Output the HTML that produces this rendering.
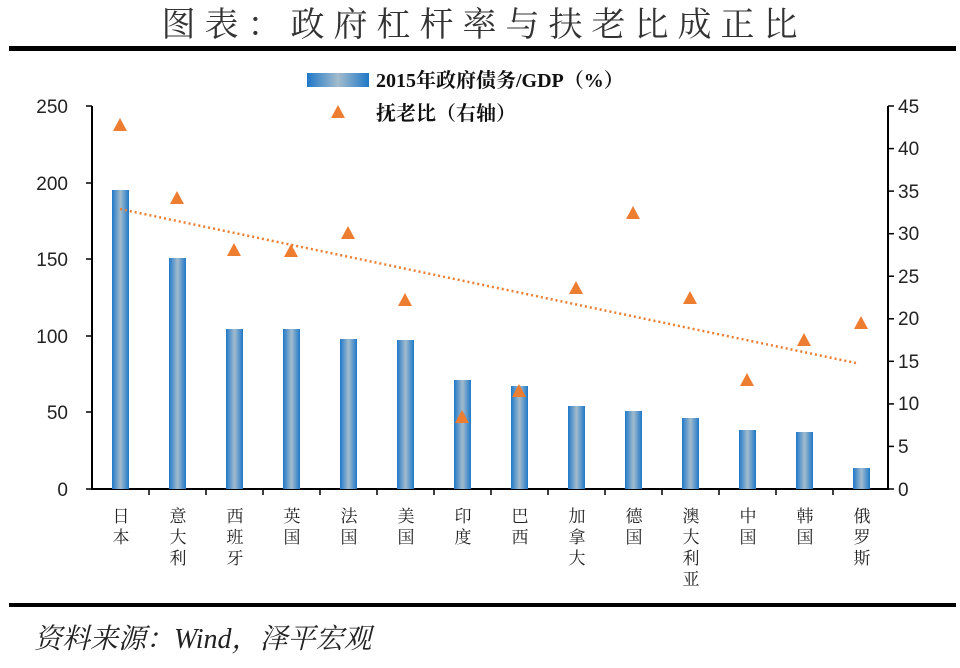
<!DOCTYPE html>
<html><head><meta charset="utf-8"><style>
body{margin:0;background:#fff;width:960px;height:663px;overflow:hidden}
</style></head><body>
<svg width="960" height="663" viewBox="0 0 960 663" xmlns="http://www.w3.org/2000/svg" font-family="'Liberation Serif','Noto Serif CJK SC',serif">
<defs>
<linearGradient id="g" x1="0" x2="1" y1="0" y2="0">
<stop offset="0" stop-color="#1f78c8"/><stop offset="0.5" stop-color="#a3bccd"/><stop offset="1" stop-color="#1f78c8"/>
</linearGradient>
</defs>
<text x="484" y="36" font-size="34" text-anchor="middle" fill="#333" letter-spacing="9">图表：政府杠杆率与扶老比成正比</text>
<rect x="9" y="46" width="947" height="5" fill="#000"/>
<rect x="9" y="603" width="947" height="4" fill="#000"/>
<text x="34" y="648" font-size="28" font-style="italic" fill="#222">资料来源：Wind，泽平宏观</text>
<!-- legend -->
<rect x="307" y="73" width="62" height="14" fill="url(#g)"/>
<text x="376" y="87" font-size="20" font-weight="bold" fill="#111">2015年政府债务/GDP（%）</text>
<polygon points="338,105 331,118 345,118" fill="#ed7d31"/>
<text x="376" y="120" font-size="20" font-weight="bold" fill="#111">抚老比（右轴）</text>
<!-- axes -->
<g stroke="#000" stroke-width="2">
<line x1="92" y1="106" x2="92" y2="490"/>
<line x1="91" y1="489" x2="888" y2="489"/>
<line x1="888" y1="106" x2="888" y2="490"/>
</g>
<g stroke="#000" stroke-width="1.5">
<line x1="86" y1="106" x2="92" y2="106"/><line x1="86" y1="183" x2="92" y2="183"/><line x1="86" y1="259" x2="92" y2="259"/><line x1="86" y1="336" x2="92" y2="336"/><line x1="86" y1="412" x2="92" y2="412"/><line x1="86" y1="489" x2="92" y2="489"/>
<line x1="888" y1="106" x2="894" y2="106"/><line x1="888" y1="148.6" x2="894" y2="148.6"/><line x1="888" y1="191.1" x2="894" y2="191.1"/><line x1="888" y1="233.7" x2="894" y2="233.7"/><line x1="888" y1="276.2" x2="894" y2="276.2"/><line x1="888" y1="318.8" x2="894" y2="318.8"/><line x1="888" y1="361.3" x2="894" y2="361.3"/><line x1="888" y1="403.9" x2="894" y2="403.9"/><line x1="888" y1="446.4" x2="894" y2="446.4"/><line x1="888" y1="489" x2="894" y2="489"/>
</g>
<g stroke="#000" stroke-width="1.5">
<line x1="149" y1="489" x2="149" y2="495"/><line x1="206" y1="489" x2="206" y2="495"/><line x1="263" y1="489" x2="263" y2="495"/><line x1="320" y1="489" x2="320" y2="495"/><line x1="377" y1="489" x2="377" y2="495"/><line x1="434" y1="489" x2="434" y2="495"/><line x1="491" y1="489" x2="491" y2="495"/><line x1="548" y1="489" x2="548" y2="495"/><line x1="605" y1="489" x2="605" y2="495"/><line x1="662" y1="489" x2="662" y2="495"/><line x1="719" y1="489" x2="719" y2="495"/><line x1="776" y1="489" x2="776" y2="495"/><line x1="833" y1="489" x2="833" y2="495"/>
</g>
<g font-family="'Liberation Sans',sans-serif" font-size="19" fill="#222" text-anchor="end">
<text x="68" y="113">250</text><text x="68" y="190">200</text><text x="68" y="266">150</text><text x="68" y="343">100</text><text x="68" y="419">50</text><text x="68" y="496">0</text>
</g>
<g font-family="'Liberation Sans',sans-serif" font-size="19" fill="#222" text-anchor="start">
<text x="898" y="113">45</text><text x="898" y="155">40</text><text x="898" y="198">35</text><text x="898" y="240">30</text><text x="898" y="283">25</text><text x="898" y="325">20</text><text x="898" y="368">15</text><text x="898" y="410">10</text><text x="898" y="453">5</text><text x="898" y="496">0</text>
</g>
<!-- bars -->
<g fill="url(#g)">
<rect x="112" y="190" width="17" height="299"/>
<rect x="169" y="258" width="17" height="231"/>
<rect x="226" y="329" width="17" height="160"/>
<rect x="283" y="329" width="17" height="160"/>
<rect x="340" y="339" width="17" height="150"/>
<rect x="397" y="340" width="17" height="149"/>
<rect x="454" y="380" width="17" height="109"/>
<rect x="511" y="386" width="17" height="103"/>
<rect x="568" y="406" width="17" height="83"/>
<rect x="625" y="411" width="17" height="78"/>
<rect x="682" y="418" width="17" height="71"/>
<rect x="739" y="430" width="17" height="59"/>
<rect x="796" y="432" width="17" height="57"/>
<rect x="853" y="468" width="17" height="21"/>
</g>
<line x1="120" y1="209" x2="856" y2="363" stroke="#ed7d31" stroke-width="2.5" stroke-dasharray="2,3"/>
<g fill="#ed7d31">
<polygon points="120,118 113,131 127,131"/>
<polygon points="177,191 170,204 184,204"/>
<polygon points="234,243 227,256 241,256"/>
<polygon points="291,244 284,257 298,257"/>
<polygon points="348,226 341,239 355,239"/>
<polygon points="405,293 398,306 412,306"/>
<polygon points="462,410 455,423 469,423"/>
<polygon points="519,384 512,397 526,397"/>
<polygon points="576,281 569,294 583,294"/>
<polygon points="633,206 626,219 640,219"/>
<polygon points="690,291 683,304 697,304"/>
<polygon points="747,373 740,386 754,386"/>
<polygon points="804,333 797,346 811,346"/>
<polygon points="861,316 854,329 868,329"/>
</g>
<g font-size="17" fill="#222" text-anchor="middle">
<text x="121" y="522">日</text><text x="121" y="543">本</text>
<text x="178" y="522">意</text><text x="178" y="543">大</text><text x="178" y="564">利</text>
<text x="235" y="522">西</text><text x="235" y="543">班</text><text x="235" y="564">牙</text>
<text x="292" y="522">英</text><text x="292" y="543">国</text>
<text x="349" y="522">法</text><text x="349" y="543">国</text>
<text x="406" y="522">美</text><text x="406" y="543">国</text>
<text x="463" y="522">印</text><text x="463" y="543">度</text>
<text x="520" y="522">巴</text><text x="520" y="543">西</text>
<text x="577" y="522">加</text><text x="577" y="543">拿</text><text x="577" y="564">大</text>
<text x="634" y="522">德</text><text x="634" y="543">国</text>
<text x="691" y="522">澳</text><text x="691" y="543">大</text><text x="691" y="564">利</text><text x="691" y="585">亚</text>
<text x="748" y="522">中</text><text x="748" y="543">国</text>
<text x="805" y="522">韩</text><text x="805" y="543">国</text>
<text x="862" y="522">俄</text><text x="862" y="543">罗</text><text x="862" y="564">斯</text>
</g>
</svg>
</body></html>
